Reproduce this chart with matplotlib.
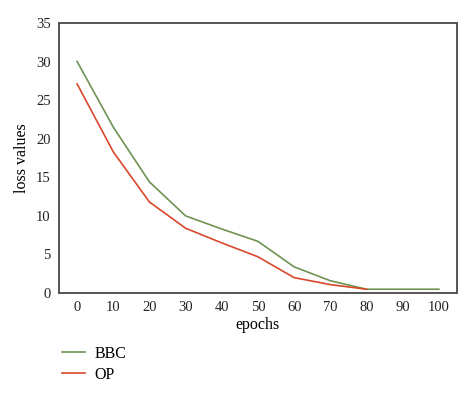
import numpy as np
import matplotlib.pyplot as plt

plt.rcParams['font.family'] = ['Liberation Serif', 'DejaVu Serif']

# Datos
epochs = np.array([0, 10, 20, 30, 40, 50, 60, 70, 80, 90, 100])
loss_bbc = np.array([30.0, 21.5, 14.4, 10.0, 8.3, 6.7, 3.4, 1.6, 0.5, 0.5, 0.5])
loss_op = np.array([27.1, 18.3, 11.8, 8.4, 6.5, 4.7, 2.0, 1.1, 0.5])
epochs_op = epochs[:len(loss_op)]

fig = plt.figure(figsize=(4.74, 3.95), dpi=100)
ax = fig.add_axes([0.1245, 0.258, 0.8395, 0.684])

l1, = ax.plot(epochs, loss_bbc, color="#6f9352", lw=1.2, label="BBC")
l2, = ax.plot(epochs_op, loss_op, color="#d9482c", lw=1.2, label="OP")

ax.set_xlim(-5, 105)
ax.set_ylim(0, 35)
ax.set_xticks(np.arange(0, 101, 10))
ax.set_yticks(np.arange(0, 36, 5))
ax.tick_params(length=0, labelsize=10.5, colors="#222222", pad=6)
for s in ax.spines.values():
    s.set_color("#555555")
    s.set_linewidth(1.4)

ax.set_xlabel("epochs", fontsize=11.5, labelpad=2)
ax.set_ylabel("loss values", fontsize=11.5, labelpad=4)

fig.legend(handles=[l1, l2], loc="upper left", bbox_to_anchor=(0.118, 0.14),
           frameon=False, fontsize=11.5, handlelength=1.4, handletextpad=0.6,
           labelspacing=0.3, borderaxespad=0)

fig.savefig("out.png", dpi=100)
